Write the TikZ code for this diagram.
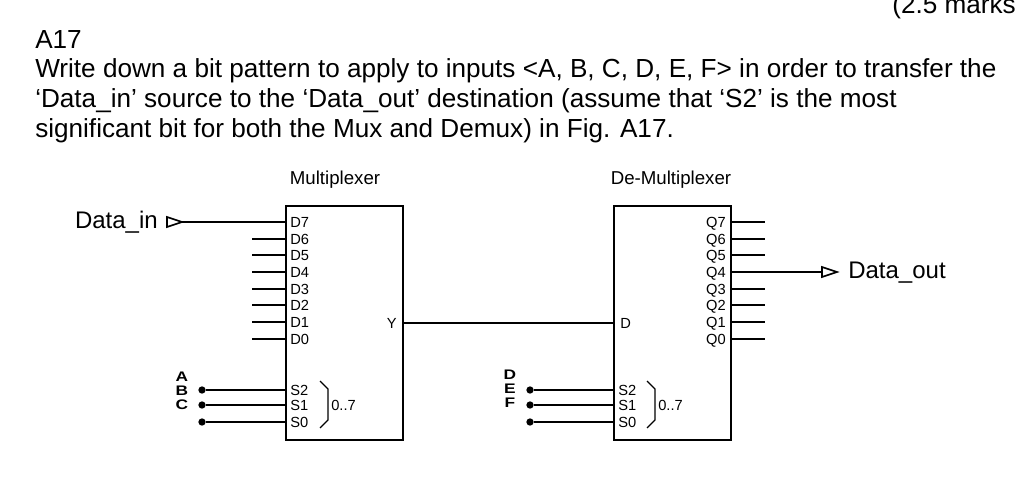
\documentclass[tikz,border=0pt]{standalone}
\usepackage{fontspec}
\setmainfont{Liberation Sans}
\begin{document}
\begin{tikzpicture}[x=0.75pt,y=-0.75pt,
  txt/.style={anchor=base west,inner sep=0pt,font=\fontsize{19.6}{22}\selectfont},
  pin/.style={inner sep=0pt,font=\fontsize{11}{12}\selectfont,text height=7.9pt,text depth=0pt},
  lbl/.style={inner sep=0pt,font=\fontsize{14}{16}\selectfont},
  wire/.style={line width=1.5pt},
  box/.style={draw,line width=1.5pt,minimum width=117*0.75pt,minimum height=234*0.75pt,inner sep=0pt},
  dot/.style={circle,fill,inner sep=0pt,minimum size=5.5pt},
  stk/.style={inner sep=0pt,font=\bfseries\fontsize{13}{13}\selectfont,yscale=0.8},
  tri/.style={line width=1.2pt}]
\useasboundingbox (0,0) rectangle (1016,484);
\node[txt,anchor=base east] (marks) at (1016,14) {(2.5 marks};
\node[txt] (t0) at (35,49) {A17};
\node[txt] (t1) at (35,78) {Write down a bit pattern to apply to inputs <A, B, C, D, E, F> in order to transfer the};
\node[txt] (t2) at (35,108) {‘Data\_in’ source to the ‘Data\_out’ destination (assume that ‘S2’ is the most};
\node[txt] (t3) at (35,138) {significant bit for both the Mux and Demux) in Fig. A17.};
\node[lbl] (mlab) at (335,180) {Multiplexer};
\node[lbl] (dlab) at (671,180) {De-Multiplexer};
% boxes
\node[box,anchor=north west] (mux) at (285,205) {};
\node[box,anchor=north west] (dmx) at (613,205) {};
% mux data inputs
\foreach \i/\y in {7/222,6/239,5/255,4/272,3/289,2/305,1/322,0/339}{
  \node[pin,anchor=west] (md\i) at (290,\y) {D\i};
  \coordinate (mi\i) at (285,\y);
}
\foreach \i/\y in {6/239,5/255,4/272,3/289,2/305,1/322,0/339}{
  \coordinate (ms\i) at (252,\y);
  \draw[wire] (ms\i) -- (mi\i);
}
% Data_in
\node[txt,anchor=base east,font=\fontsize{18}{20}\selectfont] (din) at (158,229) {Data\_in};
\coordinate (dint) at (167,222);
\coordinate (dinp) at (182,222);
\draw[tri] (dint) -- ++(0,-5) -- (dinp) -- ++(-15,5) -- cycle;
\draw[wire] (dinp) -- (mi7);
% Y to D
\node[pin,anchor=east] (my) at (397,323) {Y};
\node[pin,anchor=west] (dd) at (620,323) {D};
\coordinate (yo) at (402,323);
\coordinate (di) at (613,323);
\draw[wire] (yo) -- (di);
% demux outputs
\foreach \i/\y in {7/222,6/239,5/255,4/272,3/289,2/305,1/322,0/339}{
  \node[pin,anchor=east] (dq\i) at (726,\y) {Q\i};
  \coordinate (qo\i) at (731,\y);
}
\foreach \i/\y in {7/222,6/239,5/255,3/289,2/305,1/322,0/339}{
  \coordinate (qe\i) at (765,\y);
  \draw[wire] (qo\i) -- (qe\i);
}
\coordinate (q4p) at (822,272);
\draw[wire] (qo4) -- (q4p);
\draw[tri] (q4p) -- ++(0,-5) -- ++(15,5) -- ++(-15,5) -- cycle;
\node[txt,font=\fontsize{18}{20}\selectfont] (dout) at (848,279) {Data\_out};
% select lines
\foreach \b/\n/\l in {mux/m/202,dmx/d/530}{
  \foreach \s/\y in {2/390,1/405,0/422}{
    \node[dot] (\n dot\s) at (\l,\y) {};
  }
}
\foreach \s/\y in {2/390,1/405,0/422}{
  \coordinate (msi\s) at (285,\y);
  \coordinate (dsi\s) at (613,\y);
  \draw[wire] (mdot\s) -- (msi\s);
  \draw[wire] (ddot\s) -- (dsi\s);
  \node[pin,anchor=west] (msl\s) at (290,\y) {S\s};
  \node[pin,anchor=west] (dsl\s) at (618,\y) {S\s};
}
\draw[line width=1pt] (320,381) -- (328,389) -- (328,420) -- (320,428);
\draw[line width=1pt] (647,381) -- (655,389) -- (655,420) -- (647,428);
\node[pin,anchor=west] (mr) at (331,405) {0..7};
\node[pin,anchor=west] (dr) at (658,405) {0..7};
% stacked letters
\foreach \c/\y in {A/377,B/391,C/405}{
  \node[stk] (m\c) at (182,\y) {\c};
}
\foreach \c/\y in {D/375,E/389,F/403}{
  \node[stk] (d\c) at (510,\y) {\c};
}
\end{tikzpicture}
\end{document}
